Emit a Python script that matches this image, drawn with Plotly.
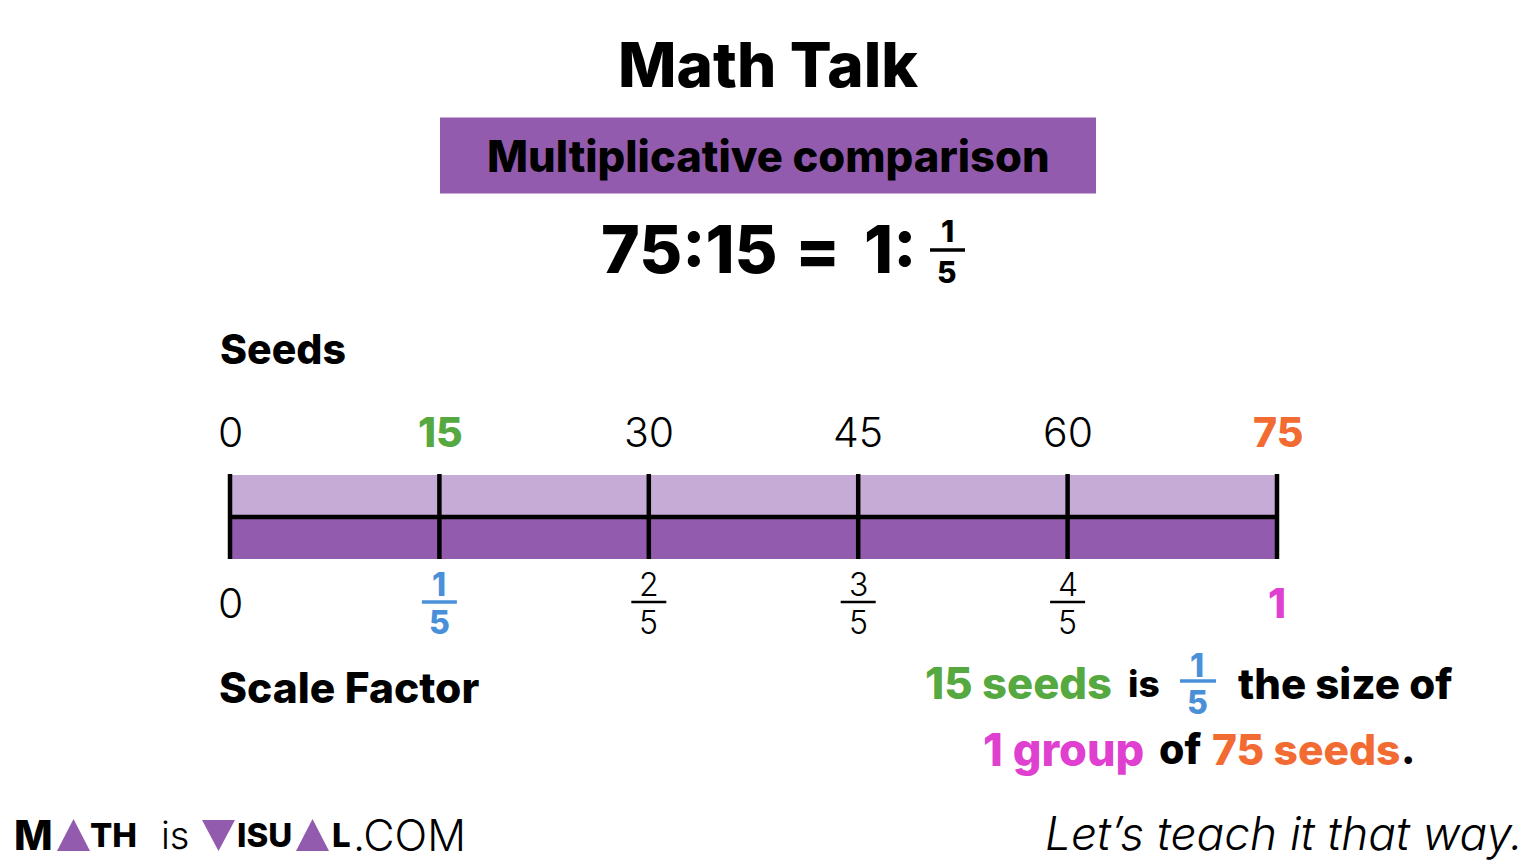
import plotly.graph_objects as go

# values
seed_ticks = [0, 15, 30, 45, 60, 75]
segment_starts = [0, 15, 30, 45, 60]
segment_sizes = [15, 15, 15, 15, 15]
seed_labels = ['0', '15', '30', '45', '60', '75']
seed_colors = ['#000000', '#55A940', '#000000', '#000000', '#000000', '#F26B33']
factor_num = ['', '1', '2', '3', '4', '']
factor_den = ['', '5', '5', '5', '5', '']
factor_whole = ['0', '', '', '', '', '1']
factor_colors = ['#000000', '#4A90D9', '#000000', '#000000', '#000000', '#E040D0']

PURPLE = '#925BAD'
LIGHT = '#C5ABD6'
FONT = 'Inter'
W, H = 1536, 864

# seeds axis spans 230px to 1277px on the page
per_px = 75 / 1047
x_range = [-230 * per_px, (W - 230) * per_px]


def text(fig, x, y, s, size, color='#000000', weight=300, anchor='left', style='normal'):
    fig.add_annotation(x=x / W, y=1 - y / H, xref='paper', yref='paper', text=s, showarrow=False,
                       xanchor=anchor, yanchor='middle', align=anchor,
                       font=dict(family=FONT, size=size, color=color, weight=weight, style=style))


def triangle(fig, x0, x1, y_base, y_tip):
    xm = (x0 + x1) / 2
    fig.add_shape(type='path', xref='paper', yref='paper', fillcolor=PURPLE, line_width=0,
                  path=f'M {x0 / W} {1 - y_base / H} L {x1 / W} {1 - y_base / H} L {xm / W} {1 - y_tip / H} Z')


def frac_bar(fig, x0, x1, y, color, width=3):
    fig.add_shape(type='line', xref='paper', yref='paper', x0=x0 / W, x1=x1 / W,
                  y0=1 - y / H, y1=1 - y / H, line=dict(color=color, width=width))


fig = go.Figure()

# the two bands, y axis is in page pixels so 496 and 538 are the band centres
fig.add_trace(go.Bar(x=segment_sizes, base=segment_starts, y=[496] * 5, width=42, orientation='h',
                     marker=dict(color=LIGHT, line_width=0), hoverinfo='skip'))
fig.add_trace(go.Bar(x=segment_sizes, base=segment_starts, y=[538] * 5, width=42, orientation='h',
                     marker=dict(color=PURPLE, line_width=0), hoverinfo='skip'))

# middle line and tick marks
fig.add_trace(go.Scatter(x=[seed_ticks[0], seed_ticks[-1]], y=[517, 517], mode='lines',
                         line=dict(color='#000000', width=4.5), hoverinfo='skip'))
tick_x, tick_y = [], []
for t in seed_ticks:
    tick_x += [t, t, None]
    tick_y += [474, 559, None]
fig.add_trace(go.Scatter(x=tick_x, y=tick_y, mode='lines', line=dict(color='#000000', width=4.5),
                         hoverinfo='skip'))

# header
text(fig, 768, 64, 'Math Talk', 62, weight=800, anchor='center')
fig.add_shape(type='rect', xref='paper', yref='paper', x0=440 / W, x1=1096 / W, y0=1 - 193.5 / H, y1=1 - 117.5 / H,
              fillcolor=PURPLE, line_width=0)
text(fig, 768, 156, 'Multiplicative comparison', 43.5, weight=800, anchor='center')
text(fig, 599, 249, '75:15', 66, weight=800)
text(fig, 793, 249, '=', 66, weight=800)
text(fig, 862, 249, '1:', 66, weight=800)
text(fig, 947, 231, '1', 30, weight=800, anchor='center')
frac_bar(fig, 930, 965, 250, '#000000', 3.5)
text(fig, 947, 272, '5', 30, weight=800, anchor='center')

text(fig, 218, 349, 'Seeds', 41, weight=800)
text(fig, 217, 687, 'Scale Factor', 42.5, weight=800)

# labels above and below each tick
for t, lab, col in zip(seed_ticks, seed_labels, seed_colors):
    px = 230 + t / per_px
    bold = col != '#000000'
    text(fig, px + (1 if bold else 0), 432, lab, 41, col, 800 if bold else 300, 'center')
for t, num, den, whole, col in zip(seed_ticks, factor_num, factor_den, factor_whole, factor_colors):
    px = 230 + t / per_px
    bold = col != '#000000'
    if whole:
        text(fig, px, 603, whole, 41, col, 800 if bold else 300, 'center')
    else:
        text(fig, px, 584, num, 32, col, 800 if bold else 300, 'center')
        frac_bar(fig, px - 17.5, px + 17.5, 602, col, 3.5 if bold else 2.5)
        text(fig, px, 622, den, 32, col, 800 if bold else 300, 'center')

# sentence, bottom right
text(fig, 923, 683, '15 seeds', 43.5, '#55A940', 800)
text(fig, 1126, 683, 'is', 37, weight=800)
text(fig, 1197, 665, '1', 32, '#4A90D9', 800, 'center')
frac_bar(fig, 1180, 1216, 681, '#4A90D9', 3.5)
text(fig, 1197, 702, '5', 32, '#4A90D9', 800, 'center')
text(fig, 1236, 683, 'the size of', 42, weight=800)
text(fig, 981, 749, '1 group', 45, '#E040D0', 800)
text(fig, 1157, 749, 'of', 41, weight=800)
text(fig, 1210, 749, '75 seeds', 42.5, '#F26B33', 800)
text(fig, 1399, 749, '.', 41, weight=800)

# footer logo
text(fig, 12, 835, 'M', 41, weight=800)
triangle(fig, 57, 90, 851, 819)
text(fig, 88, 835, 'TH', 33, weight=800)
text(fig, 159, 835, 'is', 38)
triangle(fig, 202, 235, 820, 851)
text(fig, 235, 835, 'ISU', 33, weight=800)
triangle(fig, 296, 329, 851, 819)
text(fig, 330, 835, 'L', 33, weight=800)
text(fig, 351, 835, '.COM', 43, weight=300)
text(fig, 1525, 833, 'Let’s teach it that way.', 46, weight=300, anchor='right', style='italic')

fig.update_xaxes(range=x_range, visible=False, fixedrange=True)
fig.update_yaxes(range=[H, 0], visible=False, fixedrange=True)
fig.update_layout(width=W, height=H, margin=dict(l=0, r=0, t=0, b=0), showlegend=False,
                  barmode='overlay', plot_bgcolor='#ffffff', paper_bgcolor='#ffffff')

fig.write_html("out.html", config=dict(displayModeBar=False), post_script="document.body.style.margin='0';")
